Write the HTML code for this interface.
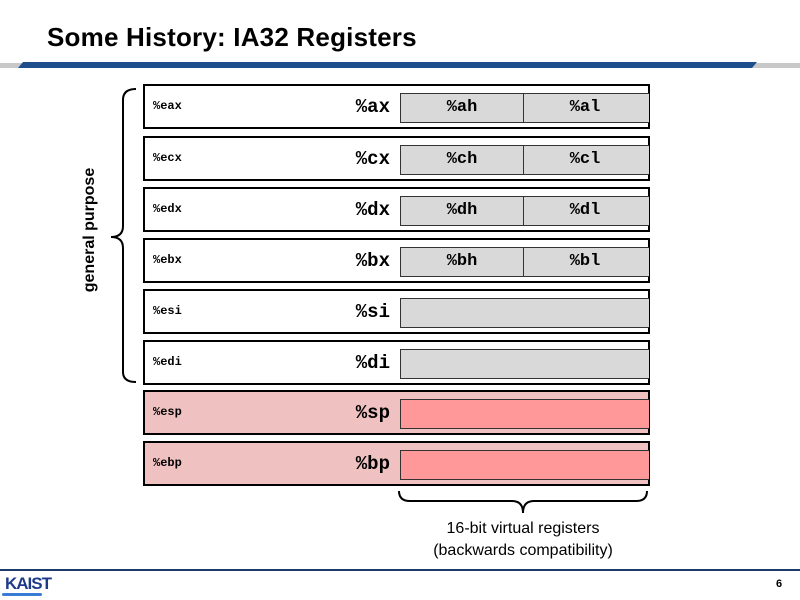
<!DOCTYPE html>
<html><head><meta charset="utf-8"><style>
body{margin:0;width:800px;height:600px;background:#fff;position:relative;overflow:hidden;font-family:"Liberation Sans",sans-serif}
.a{position:absolute}
.row{position:absolute;left:143px;width:503px;height:41px;border:2px solid #000;background:#fff;box-sizing:content-box}
.row.p{background:#efc1c1}
.lab{position:absolute;left:8px;top:13px;font:bold 12px "Liberation Mono",monospace}
.x{position:absolute;right:258px;top:10px;font:bold 19px "Liberation Mono",monospace}
.box{position:absolute;left:255px;top:7px;width:248px;height:28px;border:1px solid #333;background:#d9d9d9;border-right:none}
.p .box{background:#ff9999}
.h{position:absolute;top:4px;font:bold 17px "Liberation Mono",monospace;text-align:center;width:122px}
.dv{position:absolute;left:122px;top:0;width:1px;height:28px;background:#333}
</style></head><body>
<div class="a" style="left:47px;top:22px;font-size:26px;font-weight:bold;color:#000;letter-spacing:0.2px">Some History: IA32 Registers</div>
<div class="a" style="left:0;top:63px;width:800px;height:5px;background:#c8c8c8"></div>
<svg class="a" style="left:0;top:0" width="800" height="600">
<polygon points="23,62 757,62 752,68 18,68" fill="#1f4e8c"/>
<path d="M136,89 Q123,89 123,100 L123,226 Q123,237 111,237 Q123,237 123,248 L123,372 Q123,382 136,382" fill="none" stroke="#000" stroke-width="2"/>
<path d="M399,491 Q399,501 410,501 L512,501 Q523,501 523,513 Q523,501 534,501 L636,501 Q647,501 647,491" fill="none" stroke="#000" stroke-width="2"/>
<line x1="0" y1="570" x2="800" y2="570" stroke="#1f3a6a" stroke-width="2"/>
</svg>
<div class="a" style="left:90px;top:230px;transform:translate(-50%,-50%) rotate(-90deg);font-size:16px;font-weight:bold;white-space:nowrap">general purpose</div>

<div class="row" style="top:84px"><span class="lab">%eax</span><span class="x">%ax</span><div class="box"><span class="h" style="left:0">%ah</span><div class="dv"></div><span class="h" style="left:123px">%al</span></div></div>
<div class="row" style="top:136px"><span class="lab">%ecx</span><span class="x">%cx</span><div class="box"><span class="h" style="left:0">%ch</span><div class="dv"></div><span class="h" style="left:123px">%cl</span></div></div>
<div class="row" style="top:187px"><span class="lab">%edx</span><span class="x">%dx</span><div class="box"><span class="h" style="left:0">%dh</span><div class="dv"></div><span class="h" style="left:123px">%dl</span></div></div>
<div class="row" style="top:238px"><span class="lab">%ebx</span><span class="x">%bx</span><div class="box"><span class="h" style="left:0">%bh</span><div class="dv"></div><span class="h" style="left:123px">%bl</span></div></div>
<div class="row" style="top:289px"><span class="lab">%esi</span><span class="x">%si</span><div class="box"></div></div>
<div class="row" style="top:340px"><span class="lab">%edi</span><span class="x">%di</span><div class="box"></div></div>
<div class="row p" style="top:390px"><span class="lab">%esp</span><span class="x">%sp</span><div class="box"></div></div>
<div class="row p" style="top:441px"><span class="lab">%ebp</span><span class="x">%bp</span><div class="box"></div></div>

<div class="a" style="left:380px;top:518px;width:286px;text-align:center;font-size:16px;line-height:22px">16-bit virtual registers<br>(backwards compatibility)</div>
<div class="a" style="left:5px;top:574px;font-size:17px;font-weight:bold;color:#1f3a8a;letter-spacing:-1px">KAIST</div>
<div class="a" style="left:2px;top:593px;width:40px;height:3px;background:#3a7bd5;border-radius:2px"></div>
<div class="a" style="left:776px;top:578px;font-size:11px;font-weight:bold">6</div>
</body></html>
